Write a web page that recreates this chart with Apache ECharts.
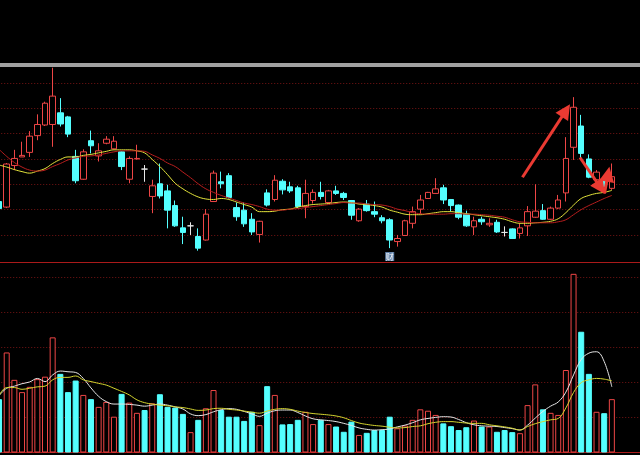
<!DOCTYPE html>
<html>
<head>
<meta charset="utf-8">
<script src="https://cdn.jsdelivr.net/npm/echarts@6/dist/echarts.min.js"></script>
<style>
html,body{margin:0;padding:0;background:#000;}
#c{width:640px;height:455px;}
</style>
</head>
<body>
<div id="c"></div>
<script>
// ---- data ----
const open = [9.16,9.05,9.87,10.04,10.13,10.46,10.67,10.68,10.91,10.83,
10.05,9.60,10.36,10.06,10.31,10.20,10.14,9.60,10.00,9.80,
9.26,9.51,9.37,9.08,8.64,8.68,8.47,8.40,9.16,9.55,
9.67,9.04,8.99,8.81,8.51,9.33,9.20,9.56,9.45,9.43,
9.06,9.18,9.34,9.14,9.37,9.32,9.18,8.78,9.11,8.96,
8.84,8.80,8.37,8.49,8.73,9.01,9.22,9.32,9.43,9.20,
9.09,8.91,8.66,8.81,8.70,8.75,8.55,8.62,8.53,8.68,
8.85,8.98,8.81,9.03,9.33,10.23,10.65,10.00,9.59,9.59,
9.42];
const close = [9.02,9.90,10.01,10.07,10.45,10.68,11.10,11.24,10.69,10.49,
9.57,10.14,10.26,10.16,10.39,10.35,9.85,10.01,10.01,9.80,
9.47,9.27,8.99,8.68,8.55,8.68,8.24,8.91,9.72,9.51,
9.24,8.86,8.72,8.56,8.77,9.09,9.58,9.39,9.37,9.06,
9.32,9.34,9.26,9.37,9.32,9.24,8.89,9.01,8.98,8.91,
8.78,8.40,8.43,8.78,8.96,9.19,9.34,9.41,9.19,9.08,
8.85,8.68,8.78,8.76,8.73,8.56,8.55,8.43,8.64,8.96,
8.97,8.81,9.03,9.19,10.01,11.02,10.11,9.64,9.74,9.45,
9.65];
const low = [9.01,9.03,9.78,10.04,10.04,10.37,10.65,10.24,10.64,10.43,
9.52,9.59,10.11,9.95,10.29,10.19,9.78,9.52,9.99,9.55,
8.93,9.22,8.63,8.66,8.32,8.50,8.19,8.39,9.15,9.42,
9.22,8.78,8.66,8.50,8.35,9.06,9.16,9.30,9.33,9.03,
8.83,9.12,9.20,9.12,9.29,9.19,8.80,8.76,8.96,8.85,
8.73,8.24,8.27,8.48,8.63,8.91,9.22,9.32,9.11,8.96,
8.81,8.66,8.50,8.70,8.66,8.54,8.47,8.42,8.43,8.48,
8.84,8.80,8.80,9.01,9.16,9.98,9.98,9.62,9.53,9.44,
9.39];
const high = [9.19,9.92,10.18,10.34,10.55,10.88,11.13,11.80,11.20,10.85,
10.18,10.19,10.56,10.31,10.45,10.45,10.15,10.05,10.28,9.88,
9.59,9.91,9.49,9.18,8.86,8.75,8.63,9.01,9.77,9.75,
9.72,9.14,9.14,8.93,8.78,9.40,9.68,9.60,9.55,9.47,
9.59,9.40,9.55,9.39,9.47,9.35,9.19,9.03,9.19,9.16,
8.89,8.83,8.50,8.80,9.06,9.29,9.35,9.62,9.49,9.21,
9.10,8.98,8.86,8.86,8.83,8.80,8.67,8.63,8.73,9.07,
9.50,9.11,9.06,9.29,10.43,11.22,10.87,10.09,9.78,9.62,
9.91];
const priceMaShort = [9.88,9.84,9.79,9.75,9.72,9.76,9.81,9.91,9.99,10.04,
10.04,10.07,10.09,10.12,10.15,10.18,10.18,10.18,10.16,10.12,
9.99,9.85,9.69,9.52,9.41,9.32,9.25,9.21,9.20,9.22,
9.20,9.15,9.10,9.05,8.96,8.96,8.97,9.00,9.01,9.05,
9.08,9.10,9.11,9.12,9.14,9.15,9.14,9.11,9.10,9.08,
9.05,8.99,8.95,8.91,8.90,8.90,8.92,8.94,8.96,8.96,
8.94,8.92,8.90,8.88,8.86,8.84,8.81,8.76,8.73,8.73,
8.74,8.75,8.77,8.82,8.94,9.09,9.22,9.28,9.32,9.34,
9.38];
const priceMaLong = [10.19,10.05,9.93,9.84,9.78,9.76,9.78,9.85,9.91,9.98,
10.02,10.05,10.06,10.08,10.11,10.14,10.16,10.16,10.16,10.15,
10.08,10.01,9.92,9.85,9.74,9.63,9.51,9.41,9.34,9.28,
9.23,9.18,9.13,9.10,9.06,9.01,8.99,8.99,9.01,9.02,
9.04,9.06,9.08,9.10,9.12,9.14,9.13,9.13,9.11,9.10,
9.09,9.06,9.01,8.98,8.94,8.92,8.91,8.91,8.91,8.92,
8.92,8.91,8.91,8.90,8.89,8.87,8.85,8.80,8.76,8.75,
8.74,8.74,8.74,8.76,8.80,8.90,9.00,9.08,9.15,9.22,
9.28];
const volume = [152,285,207,172,187,209,216,328,224,172,
205,164,152,130,144,102,167,142,113,121,
140,166,130,128,110,58,93,126,178,121,
102,102,90,116,78,189,164,80,81,93,
116,81,93,81,74,59,88,50,56,64,
64,102,69,77,93,123,119,107,83,75,
64,72,91,74,74,59,64,58,55,135,
194,123,113,107,235,509,344,224,116,112,
152];
const volMa5 = [162,183,189,196,201,211,202,221,232,230,
228,211,184,160,145,138,138,137,135,132,
135,138,135,130,124,110,105,108,116,122,
125,123,117,110,103,112,119,121,121,114,
104,96,93,91,88,83,77,70,66,64,
65,67,73,78,85,93,97,100,102,101,
94,85,79,76,75,74,71,68,64,78,
98,117,132,144,172,221,265,283,287,259,
187];
const volMa10 = [162,185,185,180,183,187,189,207,214,214,
218,207,202,197,192,183,174,164,150,142,
138,135,133,130,128,124,120,121,125,126,
123,121,118,115,112,118,123,125,123,118,
114,111,109,107,104,99,91,84,80,77,
75,72,70,71,74,76,82,86,88,88,
86,84,83,83,79,76,73,69,64,74,
82,88,93,97,127,171,199,207,211,209,
204];
// annotation arrows: [startIndex, startPrice, endIndex, endPrice]
const arrows = [
  [68.33, 9.638, 74.0, 10.954],
  [75.84, 10.029, 78.53, 9.433],
  [79.04, 9.318, 79.50, 9.700]
];
// marker under a candle
const markerIndex = 51, markerPrice = 8.075, markerText = '财';
// price grid lines and volume grid lines
const priceMin = 8, priceMax = 11.854, priceStep = 0.5;
const volMax = 542.7, volStep = 100;

const SLOTS = 86;
const days = Array.from({length: SLOTS}, (_, i) => String(i + 1));

// ---- layout / style ----
const band = 7.66;
const gridLeft = -0.95 - band / 2;
const gridWidth = band * SLOTS;
const UP = '#ee4646', DOWN = '#54ffff', DOJI = '#e8e8e8';
const GRIDLINE = '#761414';

const candleData = open.map((o, i) => {
  const v = [o, close[i], low[i], high[i]];
  if (o === close[i]) return { value: v, itemStyle: { color: DOJI, borderColor: DOJI, color0: DOJI, borderColor0: DOJI } };
  return v;
});
const isUp = open.map((o, i) => close[i] > o || (close[i] === o && (i === 0 || close[i] >= close[i - 1])));
const volData = volume.map((v, i) => ({
  value: v,
  itemStyle: isUp[i] ? { color: '#000', borderColor: UP, borderWidth: 1 } : { color: DOWN, borderColor: DOWN, borderWidth: 1 }
}));

const hidden = { axisLabel: { show: false }, axisTick: { show: false } };
const dotted = (show) => ({ show: show, showMinLine: false, showMaxLine: false, lineStyle: { color: GRIDLINE, type: [1, 2], width: 1 } });

const option = {
  animation: false,
  backgroundColor: '#000',
  grid: [
    { left: gridLeft, width: gridWidth, top: 65, height: 195.3, outerBoundsMode: 'none', containLabel: false },
    { left: gridLeft, width: gridWidth, top: 262, height: 190.5, outerBoundsMode: 'none', containLabel: false }
  ],
  xAxis: [
    { type: 'category', gridIndex: 0, data: days, position: 'top', boundaryGap: true,
      axisLine: { show: true, onZero: false, lineStyle: { color: '#a0a0a0', width: 4 } }, ...hidden, splitLine: { show: false } },
    { type: 'value', gridIndex: 0, min: -0.5, max: SLOTS - 0.5, show: false },
    { type: 'category', gridIndex: 1, data: days, position: 'bottom', boundaryGap: true,
      axisLine: { show: true, onZero: false, lineStyle: { color: '#aa1a1a', width: 1 } }, ...hidden, splitLine: { show: false } },
    { type: 'category', gridIndex: 1, data: days, position: 'top', boundaryGap: true,
      axisLine: { show: true, onZero: false, lineStyle: { color: '#aa1a1a', width: 1 } }, ...hidden, splitLine: { show: false } }
  ],
  yAxis: [
    { type: 'value', gridIndex: 0, min: priceMin, max: priceMax, interval: priceStep, scale: true,
      axisLine: { show: false }, ...hidden, splitLine: dotted(true) },
    { type: 'value', gridIndex: 1, min: 0, max: volMax, interval: volStep,
      axisLine: { show: false }, ...hidden, splitLine: dotted(true) }
  ],
  series: [
    { type: 'candlestick', name: 'K', xAxisIndex: 0, yAxisIndex: 0, barWidth: 6, z: 2,
      data: candleData,
      itemStyle: { color: '#000', color0: DOWN, borderColor: UP, borderColor0: DOWN, borderWidth: 1 },
      markPoint: {
        silent: true,
        data: [{ coord: [markerIndex, markerPrice], symbol: 'rect', symbolSize: [9, 9],
          itemStyle: { color: '#5f80a8' },
          label: { show: true, position: 'inside', formatter: markerText, color: '#fff', fontSize: 8, fontFamily: 'Noto Sans CJK SC' } }]
      }
    },
    { type: 'line', name: 'MA10', xAxisIndex: 0, yAxisIndex: 0, data: priceMaShort, smooth: 0.4, showSymbol: false, z: 3,
      lineStyle: { color: '#e4e43c', width: 1 } },
    { type: 'line', name: 'MA20', xAxisIndex: 0, yAxisIndex: 0, data: priceMaLong, smooth: 0.4, showSymbol: false, z: 3,
      lineStyle: { color: '#b81e1e', width: 1 } },
    { type: 'lines', coordinateSystem: 'cartesian2d', xAxisIndex: 1, yAxisIndex: 0, z: 5,
      symbol: ['none', 'triangle'], symbolSize: [12, 15],
      lineStyle: { color: '#ea3a32', width: 3, opacity: 1, curveness: 0 },
      data: arrows.map(a => ({ coords: [[a[0], a[1]], [a[2], a[3]]] })) },
    { type: 'bar', name: 'VOL', xAxisIndex: 2, yAxisIndex: 1, barWidth: 6, data: volData, z: 2 },
    { type: 'line', name: 'VMA5', xAxisIndex: 2, yAxisIndex: 1, data: volMa5, smooth: 0.4, showSymbol: false, z: 3,
      lineStyle: { color: '#e6e6e6', width: 1 } },
    { type: 'line', name: 'VMA10', xAxisIndex: 2, yAxisIndex: 1, data: volMa10, smooth: 0.4, showSymbol: false, z: 3,
      lineStyle: { color: '#d6d630', width: 1 } }
  ]
};
const chart = echarts.init(document.getElementById('c'));
chart.setOption(option);
</script>
</body>
</html>
